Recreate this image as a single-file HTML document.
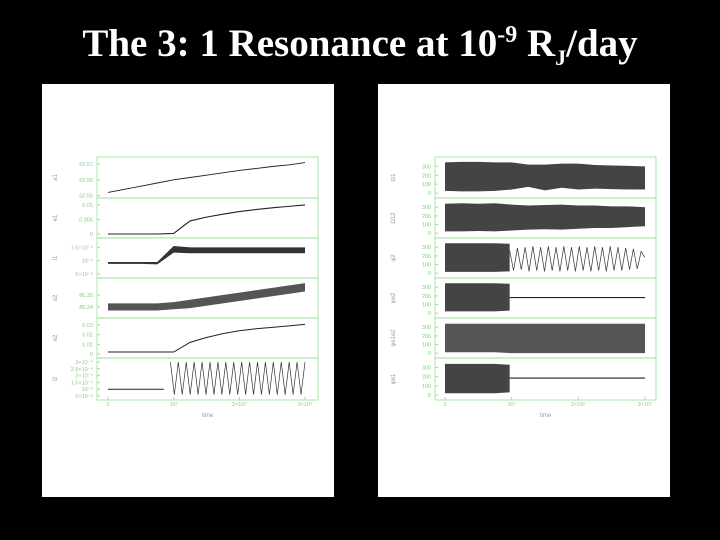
<!DOCTYPE html>
<html><head><meta charset="utf-8"><style>
body{margin:0;background:#000;width:720px;height:540px;overflow:hidden;position:relative;font-family:"Liberation Serif",serif}
#title{position:absolute;left:0;width:720px;top:21px;text-align:center;color:#fff;font-weight:bold;font-size:39px;white-space:nowrap}
#title sup{font-size:24px}
#title sub{font-size:22px}
svg{position:absolute;left:0;top:0}
</style></head><body>
<div id="title">The 3: 1 Resonance at 10<sup>-9</sup> R<sub>J</sub>/day</div>
<svg id="s" width="720" height="540"></svg>
<script>
// time axis samples (units of 1e5)
const tBand=[0,0.25,0.5,0.75,1,1.25,1.5,1.75,2,2.25,2.5,2.75,3];
const xTicksL=["0","10\u2075","2×10\u2075","3×10\u2075"];
const xTickVals=[0,1,2,3];
// left panel series
const a1Vals=[52.552,52.554,52.556,52.558,52.560,52.5615,52.563,52.5645,52.566,52.5672,52.5685,52.5695,52.571];
const e1Vals=[0,0,0,0,0.0002,0.0045,0.0058,0.0068,0.0077,0.0084,0.009,0.0095,0.01];
const i1Hi=[0.95,0.95,0.95,0.95,1.55,1.5,1.5,1.5,1.5,1.5,1.5,1.5,1.5];
const i1Lo=[0.88,0.88,0.88,0.86,1.3,1.28,1.28,1.28,1.28,1.28,1.28,1.28,1.28];
const a2Hi=[86.343,86.343,86.343,86.343,86.344,86.346,86.348,86.35,86.352,86.354,86.356,86.358,86.360];
const a2Lo=[86.337,86.337,86.337,86.337,86.338,86.339,86.341,86.343,86.345,86.347,86.349,86.351,86.353];
const e2Vals=[0.002,0.002,0.002,0.002,0.002,0.012,0.017,0.021,0.024,0.026,0.0275,0.029,0.0305];
const i2Peaks=[3.0,0.6,3.0,0.6,3.0,0.6,3.0,0.6,3.0,0.6,3.0,0.6,3.0,0.6,3.0,0.6,3.0,0.6,3.0,0.6,3.0,0.6,3.0,0.6,3.0,0.6,3.0,0.6,3.0,0.6,3.0,0.6,3.0,0.6,3.0];
// right panel series (degrees)
const w1Hi=[345,350,350,345,345,320,320,330,330,315,310,305,300];
const w1Lo=[25,20,20,25,40,70,30,60,40,50,45,40,40];
const om12Hi=[340,345,340,345,330,320,325,330,320,320,310,310,300];
const om12Lo=[20,20,25,20,30,40,45,40,50,60,60,70,80];
const phiHi=[345,345,345,345,340];
const phiLo=[15,15,15,15,20];
const phiSaw=[260,30,290,40,300,20,310,30,300,20,310,30,300,20,310,30,300,20,310,30,300,20,310,30,300,20,310,30,300,30,290,40,280,50,250,180];
const e2AngHi=[345,345,345,345,340];
const e2AngLo=[20,20,20,20,30];
const e2AngFlat=180;
const mixHi=[340,340,340,340,340,340,340,340,340,340,340,340,340];
const mixLo=[10,10,10,10,0,0,0,0,0,0,0,0,0];
const w1AngHi=[340,340,340,340,330];
const w1AngLo=[20,20,20,20,30];
const w1AngFlat=185;

const NS="http://www.w3.org/2000/svg",S=document.getElementById('s');
function el(t,a,p){const e=document.createElementNS(NS,t);for(const k in a)e.setAttribute(k,a[k]);(p||S).appendChild(e);return e;}
function rect(x,y,w,h,f){return el('rect',{x,y,width:w,height:h,fill:f});}
const bgL=rect(42,84,292,413,'#fff');


const bgR=rect(378,84,292,413,'#fff');


const tops=[157,198,238,278,318,358],bot=400;
function panel(fx0,fx1,dx0,dx1,i,ymin,ymax,ticks,name,ylab){
 const y0=tops[i],y1=i<5?tops[i+1]:bot;
 const g=el('g',{});
 
 
 el('rect',{x:fx0,y:y0,width:fx1-fx0,height:y1-y0,fill:'none',stroke:'#9d9',"stroke-width":0.8},g);
 const px=t=>dx0+(dx1-dx0)*t/3, py=v=>y1-4-(y1-y0-8)*(v-ymin)/(ymax-ymin);
 ticks.forEach(tk=>{const yy=py(tk[0]);el('line',{x1:fx0,x2:fx0+3,y1:yy,y2:yy,stroke:'#9d9'},g);
  const tx=el('text',{x:fx0-4,y:yy+2,"font-size":5.5,fill:'#8c8',"text-anchor":'end',"font-family":'Liberation Sans, sans-serif'},g);tx.textContent=tk[1];});
 const yl=el('text',{x:fx0-40,y:(y0+y1)/2,"font-size":6,fill:'#999',"text-anchor":'middle',"font-family":'Liberation Sans, sans-serif',transform:`rotate(-90 ${fx0-40} ${(y0+y1)/2})`},g);yl.textContent=ylab;
 return {g,px,py};
}
function line(P,ts,vs,w,c){el('polyline',{points:vs.map((v,k)=>P.px(ts[k])+','+P.py(v)).join(' '),fill:'none',stroke:c||'#222',"stroke-width":w||0.8},P.g);}
function band(P,ts,hi,lo,c){const pts=hi.map((v,k)=>P.px(ts[k])+','+P.py(v)).concat(lo.map((v,k)=>P.px(ts[k])+','+P.py(v)).reverse());el('polygon',{points:pts.join(' '),fill:c||'#444'},P.g);}
function saw(P,t0,t1,vals,w){const ts=vals.map((v,k)=>t0+(t1-t0)*k/(vals.length-1));line(P,ts,vals,w||0.7,'#333');}
function xaxis(fx0,fx1,dx0,dx1,pre){
 xTickVals.forEach((t,k)=>{const x=dx0+(dx1-dx0)*t/3;el('line',{x1:x,x2:x,y1:bot,y2:bot-3,stroke:'#9d9'});
  const tx=el('text',{x,y:bot+6,"font-size":5.5,fill:'#8c8',"text-anchor":'middle',"font-family":'Liberation Sans, sans-serif'});tx.textContent=xTicksL[k];
  
  });
 const tl=el('text',{x:(fx0+fx1)/2,y:bot+17,"font-size":6,fill:'#999',"text-anchor":'middle',"font-family":'Liberation Sans, sans-serif'});tl.textContent='time';
 
 
}
// Left
const LF=[97,318,108,305];
let P=panel(...LF,0,52.551,52.572,[[52.55,'52.55'],[52.56,'52.56'],[52.57,'52.57']],'panel-a1','a1');line(P,tBand,a1Vals,0.9);
P=panel(...LF,1,0,0.011,[[0,'0'],[0.005,'0.005'],[0.01,'0.01']],'panel-e1','e1');line(P,tBand,e1Vals,1.1);
P=panel(...LF,2,0.5,1.7,[[0.5,'5×10⁻⁵'],[1,'10⁻⁴'],[1.5,'1.5×10⁻⁴']],'panel-i1','i1');band(P,tBand,i1Hi,i1Lo,'#333');
P=panel(...LF,3,86.334,86.361,[[86.34,'86.34'],[86.35,'86.35']],'panel-a2','a2');band(P,tBand,a2Hi,a2Lo,'#555');
P=panel(...LF,4,0,0.033,[[0,'0'],[0.01,'0.01'],[0.02,'0.02'],[0.03,'0.03']],'panel-e2','e2');line(P,tBand,e2Vals,1);
P=panel(...LF,5,0.5,3,[[0.5,'5×10⁻⁵'],[1,'10⁻⁴'],[1.5,'1.5×10⁻⁴'],[2,'2×10⁻⁴'],[2.5,'2.5×10⁻⁴'],[3,'3×10⁻⁴']],'panel-i2','i2');
line(P,[0,0.85],[1,1],1);saw(P,0.95,3,i2Peaks,0.7);
xaxis(97,318,108,305,'left');
// Right
const RF=[435,656,445,645];
const rt=[[0,'0'],[100,'100'],[200,'200'],[300,'300']];
P=panel(...RF,0,-10,360,rt,'panel-w1','ϖ1');band(P,tBand,w1Hi,w1Lo,'#444');
P=panel(...RF,1,-10,360,rt,'panel-omega12','Ω12');band(P,tBand,om12Hi,om12Lo,'#444');
const t5=[0,0.25,0.5,0.75,0.97];
P=panel(...RF,2,-10,360,rt,'panel-phi2','φ2');band(P,t5,phiHi,phiLo,'#444');saw(P,0.97,3,phiSaw,0.7);
P=panel(...RF,3,-10,360,rt,'panel-e2-angle','φe2');band(P,t5,e2AngHi,e2AngLo,'#444');line(P,[0.97,3],[e2AngFlat,e2AngFlat],1.2);
P=panel(...RF,4,-10,360,rt,'panel-mixed-angle','φe1e2');band(P,tBand,mixHi,mixLo,'#555');
P=panel(...RF,5,-10,360,rt,'panel-e1-angle','φe1');band(P,t5,w1AngHi,w1AngLo,'#444');line(P,[0.97,3],[w1AngFlat,w1AngFlat],1.2);
xaxis(435,656,445,645,'right');
</script>
</body></html>
